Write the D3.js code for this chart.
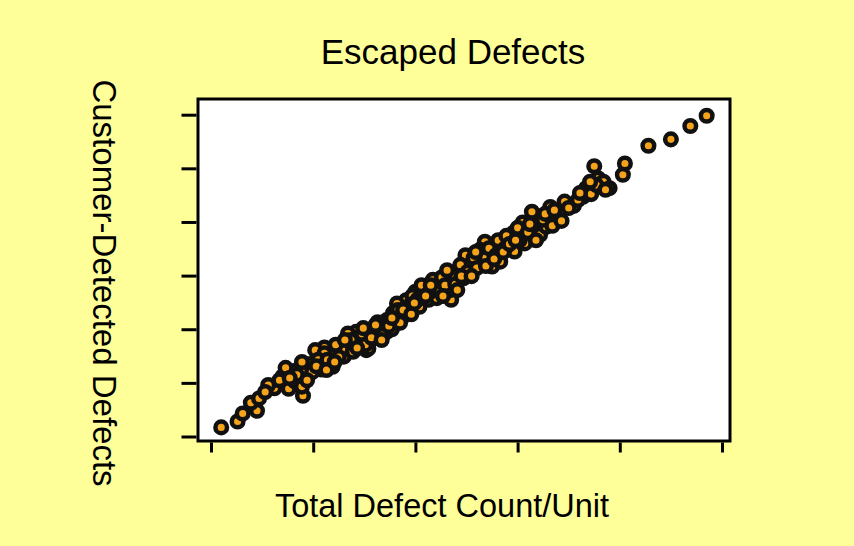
<!DOCTYPE html>
<html lang="en">
<head>
    <meta charset="UTF-8">
    <title>Escaped Defects</title>
    <style>
        body {
            margin: 0;
            background-color: #ffff99;
            font-family: "Liberation Sans", Arial, sans-serif;
        }

        .dot {
            fill: #f5a31a;
            stroke: #111;
            stroke-width: 4.5;
        }

        .axis line {
            stroke: #000;
            stroke-width: 3;
        }
    </style>
</head>
<body>
<script src="https://d3js.org/d3.v7.min.js"></script>
<script>
    // Total defect count per unit (x) and customer-detected defects (y)
    const totalDefects = [
        0.10, 0.26, 0.31, 0.45, 0.39, 0.47, 0.62, 0.56, 0.70, 0.76,
        0.81, 0.82, 0.90, 0.92, 0.89, 0.97, 0.89, 1.08, 1.11, 1.18,
        1.19, 1.30, 1.33, 1.44, 1.52, 1.42, 1.61, 1.72, 1.02, 1.11,
        1.28, 1.46, 1.55, 1.65, 1.72, 1.77, 1.78, 1.87, 1.90, 1.91,
        1.82, 2.00, 2.04, 2.09, 2.13, 2.21, 2.20, 2.32, 2.35, 2.34,
        2.47, 2.49, 2.54, 2.64, 2.68, 2.75, 2.76, 2.83, 2.84, 2.42,
        2.96, 3.07, 2.97, 1.34, 1.54, 1.59, 3.19, 3.14, 3.15, 3.05,
        3.22, 3.28, 3.32, 3.37, 3.41, 3.46, 3.55, 3.64, 3.67, 3.72,
        3.75, 3.79, 3.84, 3.90, 4.03, 4.05, 4.28, 4.50, 4.69, 4.85,
        0.53, 0.67, 0.73, 0.84, 0.99, 1.05, 1.14, 1.22, 1.25, 1.37,
        1.39, 1.48, 1.51, 1.57, 1.63, 1.68, 1.74, 1.80, 1.83, 1.85,
        1.95, 1.97, 2.02, 2.06, 2.14, 2.17, 2.24, 2.26, 2.29, 2.39,
        2.39, 2.44, 2.51, 2.57, 2.60, 2.63, 2.69, 2.72, 2.79, 2.81,
        2.88, 2.89, 3.00, 3.02, 3.10, 3.25, 3.34, 3.43, 3.50, 3.59,
        3.77, 3.86, 3.71, 0.77, 0.94, 1.03, 1.13, 1.21, 1.31, 1.43,
        1.49, 1.61, 1.67, 1.77, 1.88, 1.96, 1.99, 2.10, 2.15, 2.27,
        2.31, 2.41, 2.45, 2.55, 2.59, 2.69, 2.77, 2.86, 2.92, 2.98,
        3.12, 3.18, 3.27, 3.36, 3.61
    ];
    const customerDefects = [
        0.17, 0.28, 0.43, 0.48, 0.63, 0.71, 0.90, 0.96, 1.12, 0.89,
        1.22, 1.03, 0.76, 1.19, 0.93, 1.35, 1.39, 1.25, 1.66, 1.54,
        1.30, 1.49, 1.64, 1.77, 1.61, 1.95, 1.86, 1.95, 1.61, 1.55,
        1.64, 1.78, 1.77, 2.05, 2.17, 2.00, 2.30, 2.22, 2.39, 2.54,
        2.48, 2.70, 2.42, 2.73, 2.55, 2.58, 2.79, 2.95, 2.55, 2.73,
        2.95, 3.38, 3.21, 3.24, 3.63, 3.17, 3.49, 3.26, 3.63, 3.10,
        3.80, 3.60, 3.45, 1.92, 1.64, 1.99, 4.11, 4.19, 3.88, 3.99,
        3.76, 3.91, 4.28, 4.07, 4.16, 4.38, 4.30, 4.47, 4.63, 4.52,
        5.04, 4.81, 4.75, 4.63, 4.88, 5.09, 5.42, 5.54, 5.79, 5.98,
        0.83, 1.05, 1.28, 1.15, 1.20, 1.43, 1.43, 1.71, 1.48, 1.80,
        1.58, 1.91, 1.71, 1.84, 2.13, 1.89, 2.06, 2.21, 2.36, 2.12,
        2.45, 2.62, 2.55, 2.82, 2.69, 2.92, 2.73, 2.97, 2.82, 3.01,
        2.84, 3.20, 3.07, 3.33, 3.14, 3.48, 3.33, 3.51, 3.38, 3.66,
        3.51, 3.74, 3.89, 3.66, 3.81, 4.04, 3.93, 4.02, 4.26, 4.41,
        4.69, 4.60, 4.75, 1.09, 1.05, 1.31, 1.24, 1.39, 1.80, 1.65,
        2.02, 2.08, 1.80, 2.21, 2.36, 2.28, 2.49, 2.62, 2.82, 2.62,
        3.10, 2.73, 2.99, 2.99, 3.44, 3.18, 3.31, 3.44, 3.59, 3.66,
        3.96, 3.66, 4.15, 4.22, 4.54
    ];
    const xTicks = [0, 1, 2, 3, 4, 5];
    const yTicks = [0, 1, 2, 3, 4, 5, 6];

    const width = 854;
    const height = 546;
    const frame = {left: 198, top: 99, right: 730, bottom: 441};

    const svg = d3.select("body")
        .append("svg")
        .attr("width", width)
        .attr("height", height);

    const xScale = d3.scaleLinear().domain([0, 5]).range([211, 722]);
    const yScale = d3.scaleLinear().domain([0, 6]).range([436.5, 114.7]);

    // plot area
    svg.append("rect")
        .attr("x", frame.left)
        .attr("y", frame.top)
        .attr("width", frame.right - frame.left)
        .attr("height", frame.bottom - frame.top)
        .attr("fill", "#fff")
        .attr("stroke", "#000")
        .attr("stroke-width", 3);

    // ticks only, no labels
    const xAxis = svg.append("g")
        .attr("class", "axis")
        .attr("transform", "translate(0," + (frame.bottom + 1.5) + ")")
        .call(d3.axisBottom(xScale).tickValues(xTicks).tickSize(10).tickFormat(""));
    xAxis.select(".domain").remove();

    const yAxis = svg.append("g")
        .attr("class", "axis")
        .attr("transform", "translate(" + (frame.left - 1.5) + ",0)")
        .call(d3.axisLeft(yScale).tickValues(yTicks).tickSize(15).tickFormat(""));
    yAxis.select(".domain").remove();

    // points
    svg.append("g")
        .selectAll("circle")
        .data(totalDefects.map((d, i) => [d, customerDefects[i]]))
        .enter()
        .append("circle")
        .attr("class", "dot")
        .attr("cx", d => xScale(d[0]))
        .attr("cy", d => yScale(d[1]))
        .attr("r", 5.8);

    // titles
    svg.append("text")
        .attr("x", 453)
        .attr("y", 64)
        .attr("text-anchor", "middle")
        .attr("font-size", 35)
        .text("Escaped Defects");

    svg.append("text")
        .attr("x", 442)
        .attr("y", 517)
        .attr("text-anchor", "middle")
        .attr("font-size", 32.5)
        .text("Total Defect Count/Unit");

    svg.append("text")
        .attr("transform", "translate(93,283) rotate(90)")
        .attr("text-anchor", "middle")
        .attr("font-size", 33)
        .text("Customer-Detected Defects");
</script>
</body>
</html>
